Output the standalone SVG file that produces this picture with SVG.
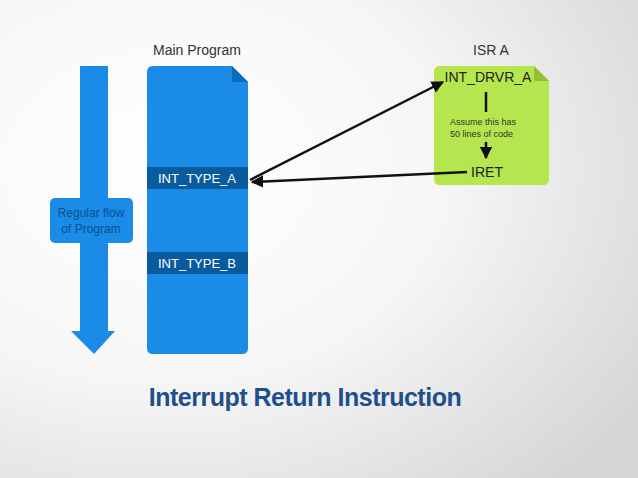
<svg xmlns="http://www.w3.org/2000/svg" width="638" height="478" viewBox="0 0 638 478">
<defs>
<radialGradient id="bg" cx="0.25" cy="0.35" r="0.9">
<stop offset="0" stop-color="#ffffff"/><stop offset="0.5" stop-color="#f6f6f6"/><stop offset="1" stop-color="#d6d6d6"/>
</radialGradient>
<marker id="ah" viewBox="0 0 10 10" refX="9" refY="5" markerWidth="5" markerHeight="5" orient="auto"><path d="M0,0 L10,5 L0,10 z" fill="#111"/></marker>
<style>
.t{font-family:"Liberation Sans",Arial,sans-serif;}
.w{fill:#fff;font-size:13px;}
.band{fill:#0a5a9e;}
.c{stroke:#111;stroke-width:2.5;fill:none;}
</style>
</defs>
<rect width="638" height="478" fill="url(#bg)"/>
<text class="t" x="197" y="55" text-anchor="middle" font-size="14" fill="#333">Main Program</text>
<text class="t" x="491" y="55" text-anchor="middle" font-size="14" fill="#333">ISR A</text>
<g id="flow">
<path d="M80,66 H108 V331 H115 L94,354 L71,331 H80 Z" fill="#1a8be6"/>
<rect x="50" y="198" width="83" height="45" rx="5" fill="#1a8be6"/>
<text class="t" x="91" y="217" text-anchor="middle" font-size="12" fill="#0a4f8f">Regular flow</text>
<text class="t" x="91" y="233" text-anchor="middle" font-size="12" fill="#0a4f8f">of Program</text>
</g>
<g id="main">
<path d="M153,66 H232 L248,82 V348 Q248,354 242,354 H153 Q147,354 147,348 V72 Q147,66 153,66 Z" fill="#1a8be6"/>
<path d="M232,66 V82 H248 Z" fill="#0e6bb8"/>
<rect class="band" x="147" y="167" width="101" height="22"/>
<text class="t w" x="197" y="183" text-anchor="middle">INT_TYPE_A</text>
<rect class="band" x="147" y="252" width="101" height="22"/>
<text class="t w" x="197" y="268" text-anchor="middle">INT_TYPE_B</text>
</g>
<g id="isr">
<path d="M440,66 H534 L549,81 V179 Q549,185 543,185 H440 Q434,185 434,179 V72 Q434,66 440,66 Z" fill="#b5e64d"/>
<path d="M534,66 V81 H549 Z" fill="#8fc22e"/>
<text class="t" x="488" y="82" text-anchor="middle" font-size="14" fill="#222">INT_DRVR_A</text>
<line x1="486" y1="92" x2="486" y2="112" stroke="#111" stroke-width="2.5"/>
<text class="t" x="450" y="125" font-size="9" fill="#333">Assume this has</text>
<text class="t" x="450" y="137" font-size="9" fill="#333">50 lines of code</text>
<line x1="486" y1="142" x2="486" y2="158" class="c" marker-end="url(#ah)"/>
<text class="t" x="487" y="177" text-anchor="middle" font-size="14" fill="#222">IRET</text>
</g>
<g id="connectors">
<line class="c" x1="250" y1="180" x2="443" y2="82" marker-end="url(#ah)"/>
<line class="c" x1="467" y1="172" x2="252" y2="182" marker-end="url(#ah)"/>
</g>
<text class="t" x="305" y="406" text-anchor="middle" font-size="25" font-weight="bold" fill="#1d4f8c" letter-spacing="-0.5">Interrupt Return Instruction</text>
</svg>
